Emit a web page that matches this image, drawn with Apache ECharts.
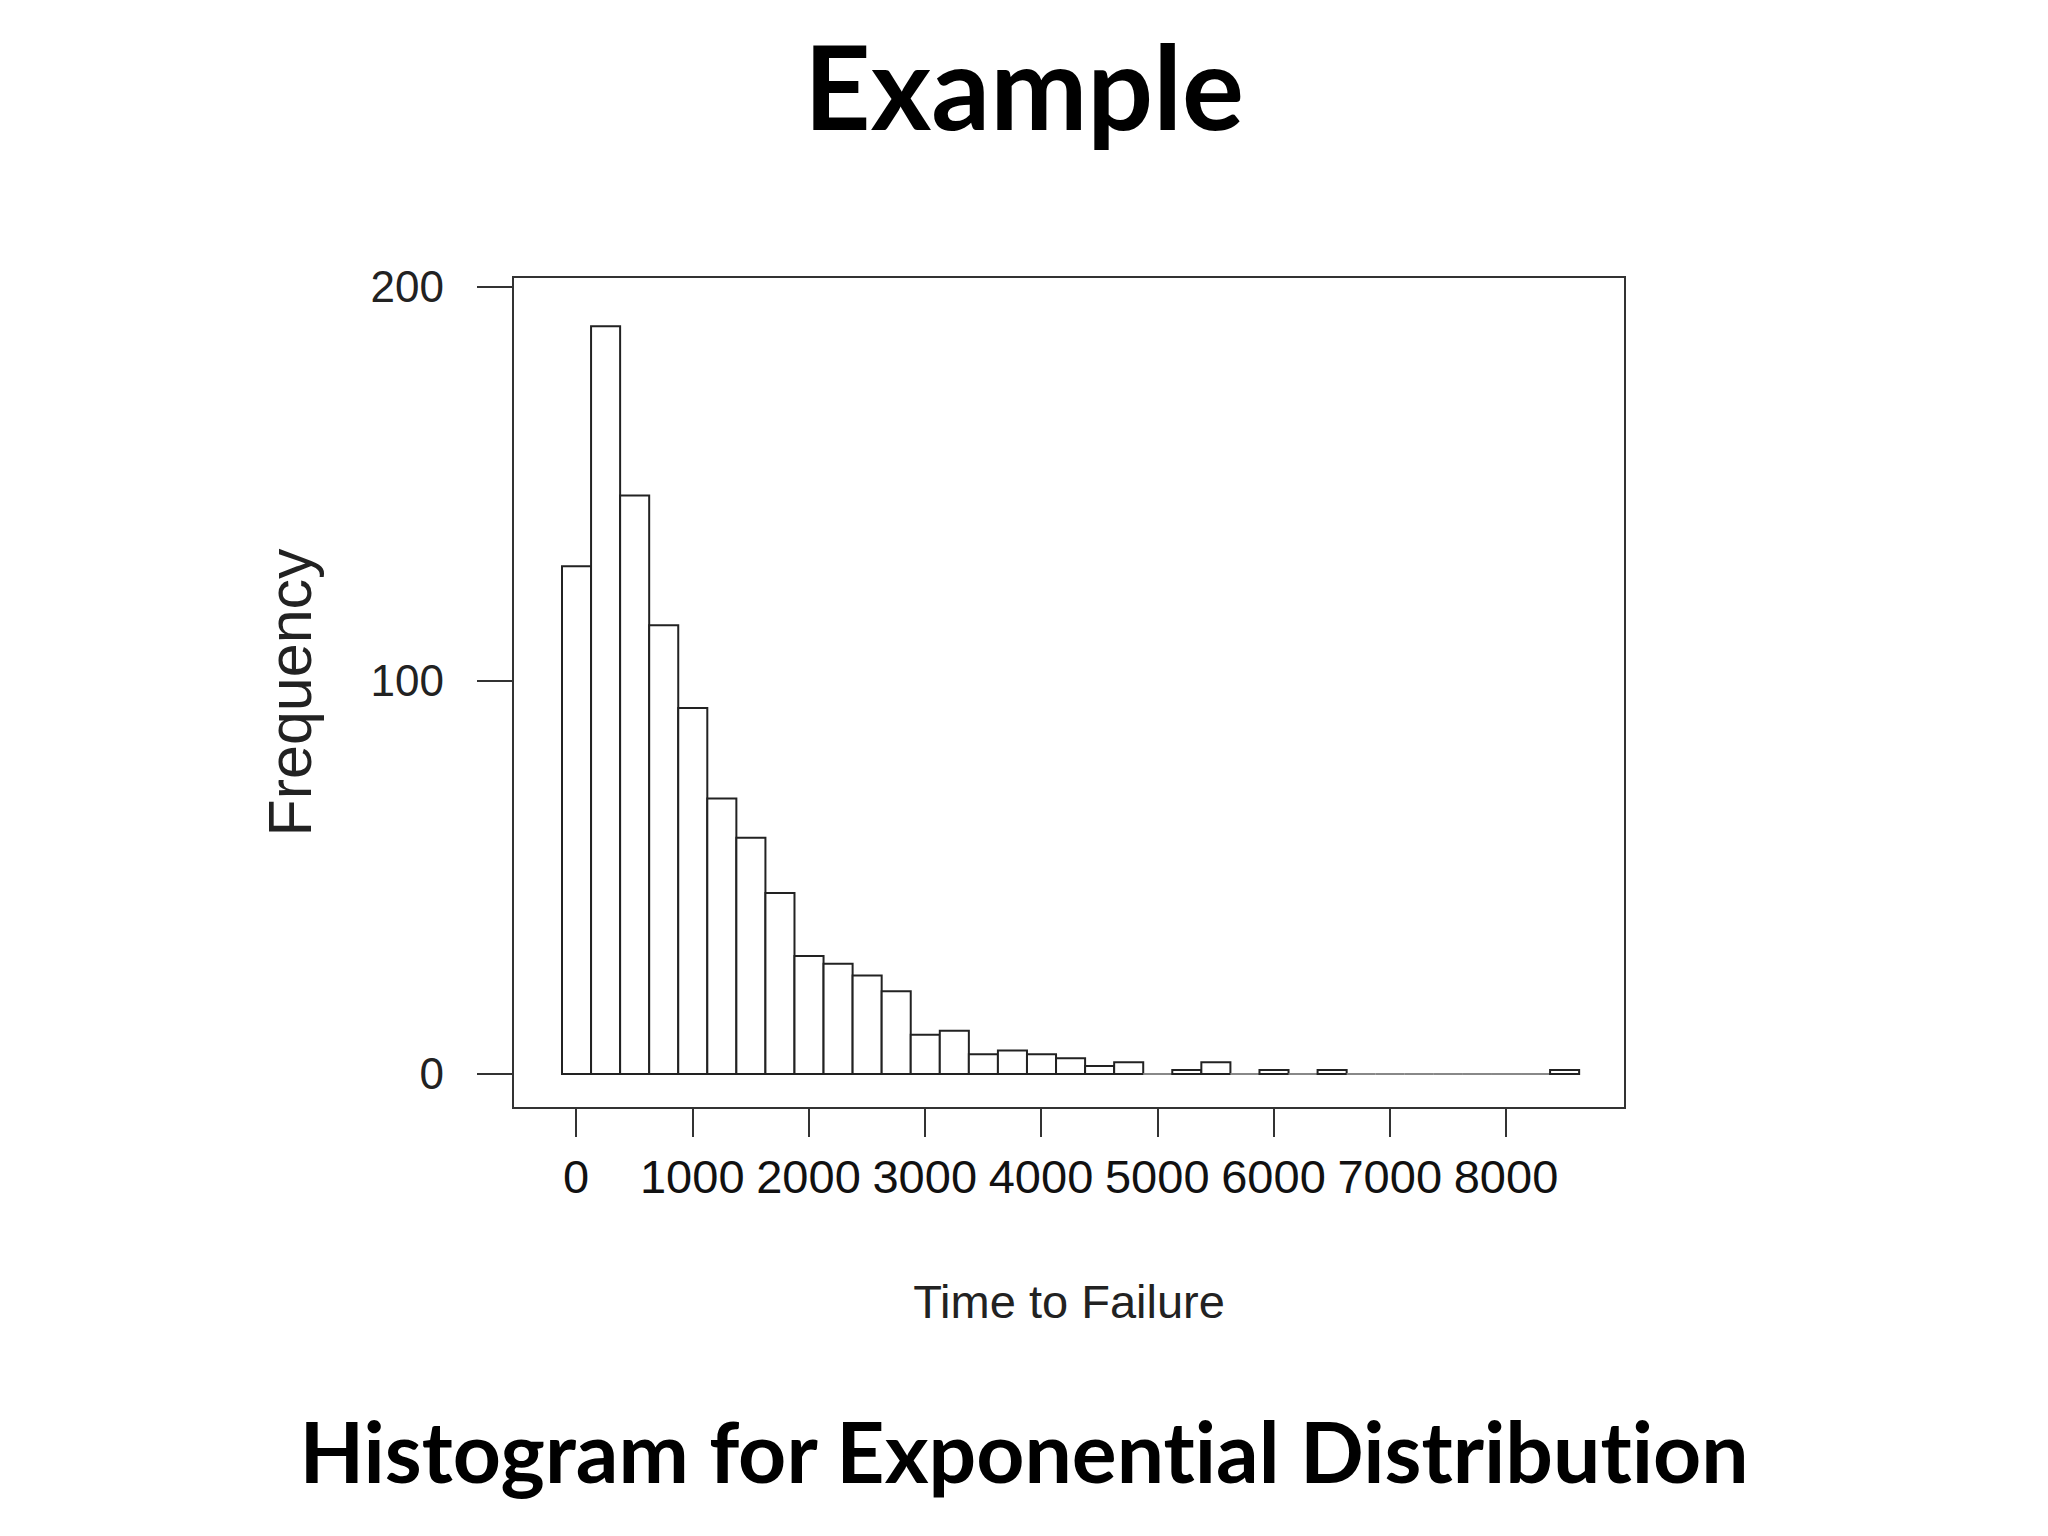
<!DOCTYPE html>
<html>
<head>
<meta charset="utf-8">
<script src="https://cdn.jsdelivr.net/npm/echarts@6/dist/echarts.min.js"></script>
<style>html,body{margin:0;padding:0;background:#fff}#c{width:2048px;height:1536px}#c text{font-variant-ligatures:none}</style>
</head>
<body>
<div id="c"></div>
<script>
// ---- data ----
const binWidth = 250;
const binStarts = [0,250,500,750,1000,1250,1500,1750,2000,2250,2500,2750,3000,3250,3500,3750,4000,4250,4500,4750,5000,5250,5500,5750,6000,6250,6500,6750,7000,7250,7500,7750,8000,8250,8500];
const counts = [129,190,147,114,93,70,60,46,30,28,25,21,10,11,5,6,5,4,2,3,0,1,3,0,1,0,1,0,0,0,0,0,0,0,1];
const xTicks = [0,1000,2000,3000,4000,5000,6000,7000,8000];
const yTicks = [0,100,200];
const titleText = 'Example';
const captionText = 'Histogram for Exponential Distribution';
const xName = 'Time to Failure';
const yName = 'Frequency';

const chart = echarts.init(document.getElementById('c'), null, {renderer:'svg'});
const barData = binStarts.map((s,i)=>[s, s+binWidth, counts[i]]);

const option = {
  backgroundColor:'#fff',
  animation:false,
  title:[
    {text:titleText, left:'center', top:22, textStyle:{fontFamily:'Lato', fontWeight:'bold', fontSize:116, color:'#000'}},
    {text:captionText, left:'center', top:1403, textStyle:{fontFamily:'Lato', fontWeight:'bold', fontSize:84, color:'#000'}}
  ],
  grid:[
    {left:513, top:277, width:1112, height:831, show:true, borderColor:'#333', borderWidth:2, backgroundColor:'transparent'},
    {left:576, top:277, width:930, height:831, show:false}
  ],
  xAxis:[
    {gridIndex:0, type:'value', min:-421.5, max:9144.5, position:'bottom',
     axisLine:{show:false, onZero:false}, axisTick:{show:false}, axisLabel:{show:false}, splitLine:{show:false},
     name:xName, nameLocation:'middle', nameGap:170,
     nameTextStyle:{fontFamily:'Liberation Sans', fontSize:47, color:'#222'}
    },
    {gridIndex:1, type:'value', min:0, max:8000, interval:1000, position:'bottom',
     axisLine:{show:false, onZero:false}, splitLine:{show:false},
     axisTick:{show:true, length:29, lineStyle:{color:'#333', width:2}},
     axisLabel:{show:true, margin:45, showMinLabel:true, showMaxLabel:true, hideOverlap:false,
       formatter:function(v){return String(v);},
       fontFamily:'Liberation Sans', fontSize:47, color:'#111'}
    }
  ],
  yAxis:[
    {gridIndex:0, type:'value', min:-8.64, max:202.5,
     axisLine:{show:false, onZero:false}, splitLine:{show:false},
     axisTick:{show:true, customValues:yTicks, length:36, lineStyle:{color:'#333', width:2}},
     axisLabel:{show:true, customValues:yTicks, margin:69, formatter:function(v){return String(v);},
       fontFamily:'Liberation Sans', fontSize:44, color:'#222'},
     name:yName, nameLocation:'middle', nameGap:193,
     nameTextStyle:{fontFamily:'Liberation Sans', fontSize:61, color:'#222'}
    },
    {gridIndex:1, type:'value', min:0, max:1, show:false}
  ],
  series:[{
    type:'custom', xAxisIndex:0, yAxisIndex:0,
    encode:{x:[0,1], y:2},
    data:barData,
    renderItem:function(params, api){
      const x0 = api.value(0), x1 = api.value(1), y = api.value(2);
      const p0 = api.coord([x0, y]);
      const p1 = api.coord([x1, 0]);
      return {type:'rect', shape:{x:p0[0], y:p0[1], width:p1[0]-p0[0], height:p1[1]-p0[1]},
        style:{fill:'#fff', stroke: y>0 ? '#222' : '#888', lineWidth:2}};
    }
  }]
};
chart.setOption(option);
</script>
</body>
</html>
